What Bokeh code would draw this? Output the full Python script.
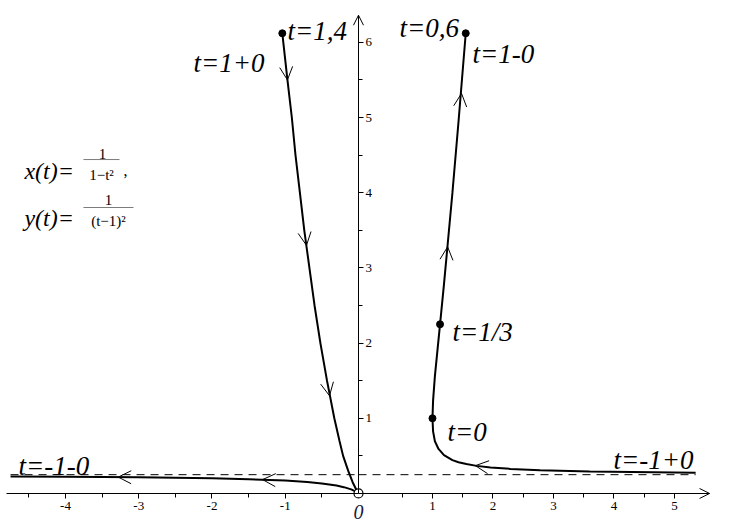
from bokeh.plotting import figure
from bokeh.models import (Range1d, LinearScale, LinearAxis, FixedTicker, Label,
                          Arrow, OpenHead, ColumnDataSource, BoxAnnotation)
from bokeh.embed import file_html
from bokeh.resources import INLINE

# ---------------- values ----------------
# branch t > 1 : from the point t=1,4 down to the origin
upper_left_x = [-1.04, -0.97, -0.91, -0.86, -0.80, -0.74, -0.67, -0.60, -0.52,
                -0.43, -0.33, -0.26, -0.21, -0.14, -0.08, -0.03, 0.0]
upper_left_y = [6.12, 5.5, 5.0, 4.5, 4.0, 3.5, 3.0, 2.5, 2.0,
                1.5, 1.0, 0.7, 0.5, 0.3, 0.15, 0.05, 0.0]

# branch t < -1 : from t=-1-0 (far left) to the origin
lower_left_x = [-4.75, -4.0, -3.0, -2.0, -1.5, -1.0, -0.7, -0.5, -0.3, -0.2, -0.1, -0.05, 0.0]
lower_left_y = [0.227, 0.223, 0.215, 0.202, 0.190, 0.172, 0.153, 0.134, 0.105, 0.084, 0.054, 0.032, 0.0]

# branch -1 < t < 1 : from t=-1+0 (far right) up to t=0,6  (right-hand x scale)
right_x = [5.35, 3.60, 2.78, 2.29, 1.96, 1.73, 1.56, 1.43, 1.33, 1.19, 1.10, 1.04,
           1.01, 1.00, 1.01, 1.04, 1.125, 1.19, 1.33, 1.43, 1.55]
right_y = [0.277, 0.292, 0.309, 0.327, 0.346, 0.367, 0.391, 0.416, 0.444, 0.510, 0.592, 0.694,
           0.826, 1.0, 1.235, 1.56, 2.25, 2.78, 4.0, 4.94, 6.12]

asymptote_y = 0.25

# marked points
left_dot_x, left_dot_y = [-1.04], [6.12]                       # t = 1,4
right_dot_x, right_dot_y = [1.55, 1.125, 1.0], [6.12, 2.25, 1.0]  # t = 0,6 ; 1/3 ; 0
origin_x, origin_y = [0.0], [0.0]

# direction marks along the curves (tail -> tip)
left_arrow_x0 = [-0.99, -0.74, -0.435, -1.00, -3.00]
left_arrow_y0 = [5.70, 3.50, 1.50, 0.172, 0.215]
left_arrow_x1 = [-0.97, -0.71, -0.396, -1.31, -3.28]
left_arrow_y1 = [5.50, 3.30, 1.30, 0.185, 0.218]
right_arrow_x0 = [1.44, 1.22, 1.96]
right_arrow_y0 = [5.00, 3.00, 0.346]
right_arrow_x1 = [1.48, 1.25, 1.71]
right_arrow_y1 = [5.32, 3.28, 0.370]

# axes
x_left_ticks = [-4, -3, -2, -1]
x_left_minor = [-4.5, -3.5, -2.5, -1.5, -0.5]
x_right_ticks = [1, 2, 3, 4, 5]
x_right_minor = [0.5, 1.5, 2.5, 3.5, 4.5]
y_ticks = [1, 2, 3, 4, 5, 6]
y_minor = [0.5, 1.5, 2.5, 3.5, 4.5, 5.5]
x_axis_end = 5.58
y_axis_end = 6.36

# point labels
point_labels = ["t=1,4", "t=1+0", "t=0,6", "t=1-0", "t=1/3", "t=0", "t=-1+0", "t=-1-0"]

# ---------------- figure ----------------
p = figure(width=728, height=522, x_range=Range1d(-4.887, 5.051), y_range=Range1d(-0.386, 6.556),
           output_backend="svg", toolbar_location=None, y_axis_location="right",
           min_border=0, title=None)
p.extra_x_ranges = {"right": Range1d(-6.140, 5.893)}
p.extra_x_scales = {"right": LinearScale()}
p.grid.visible = False
p.outline_line_color = None
p.background_fill_color = "white"
p.border_fill_color = "white"

FONT = "Liberation Serif"


def style_axis(ax, ticks, minor, bounds):
    ax.ticker = FixedTicker(ticks=ticks, minor_ticks=minor)
    ax.bounds = bounds
    ax.fixed_location = 0
    ax.axis_line_color = "black"
    ax.axis_line_width = 1
    ax.major_tick_in = 0
    ax.major_tick_out = 5
    ax.minor_tick_in = 0
    ax.minor_tick_out = 4
    ax.major_tick_line_color = "black"
    ax.minor_tick_line_color = "black"
    ax.major_label_text_font = FONT
    ax.major_label_text_font_size = "13px"
    ax.major_label_text_color = "black"
    ax.major_label_overrides = {t: str(t) for t in ticks}


xl = p.xaxis[0]
style_axis(xl, x_left_ticks, x_left_minor, (-4.80, 0))
xl.major_label_standoff = 4

xr = LinearAxis(x_range_name="right")
style_axis(xr, x_right_ticks, x_right_minor, (-0.223, x_axis_end))
xr.major_label_standoff = 4
p.add_layout(xr, "below")

ya = p.yaxis[0]
style_axis(ya, y_ticks, y_minor, (0, y_axis_end))
ya.major_label_standoff = 2

# axis arrow heads
p.add_layout(Arrow(end=OpenHead(size=10, line_width=1, line_color="black"),
                   x_start=x_axis_end - 0.3, y_start=0, x_end=x_axis_end, y_end=0,
                   line_alpha=0, x_range_name="right"))
p.add_layout(Arrow(end=OpenHead(size=10, line_width=1, line_color="black"),
                   x_start=0, y_start=y_axis_end - 0.3, x_end=0, y_end=y_axis_end,
                   line_alpha=0))

# asymptote y = 1/4
p.line([-4.75, 0], [asymptote_y, asymptote_y], line_color="black", line_width=1, line_dash="8 6")
p.line([-0.223, 5.35], [asymptote_y, asymptote_y], line_color="black", line_width=1,
       line_dash="8 6", x_range_name="right")

# curves
p.line(upper_left_x, upper_left_y, line_color="black", line_width=2)
p.line(lower_left_x, lower_left_y, line_color="black", line_width=2)
p.line(right_x, right_y, line_color="black", line_width=2, x_range_name="right")

# direction marks
src_l = ColumnDataSource(dict(x0=left_arrow_x0, y0=left_arrow_y0, x1=left_arrow_x1, y1=left_arrow_y1))
src_r = ColumnDataSource(dict(x0=right_arrow_x0, y0=right_arrow_y0, x1=right_arrow_x1, y1=right_arrow_y1))
p.add_layout(Arrow(end=OpenHead(size=13, line_width=1, line_color="black"), source=src_l,
                   x_start="x0", y_start="y0", x_end="x1", y_end="y1", line_alpha=0))
p.add_layout(Arrow(end=OpenHead(size=13, line_width=1, line_color="black"), source=src_r,
                   x_start="x0", y_start="y0", x_end="x1", y_end="y1", line_alpha=0,
                   x_range_name="right"))

# points
p.scatter(left_dot_x, left_dot_y, size=7, color="black")
p.scatter(right_dot_x, right_dot_y, size=7, color="black", x_range_name="right")
p.scatter(origin_x, origin_y, size=9, fill_color="white", line_color="black", line_width=1.2)

# point labels
label_pos = [(-0.969, 6.157), (-2.253, 5.731), (0.560, 6.184), (1.556, 5.851),
             (1.283, 2.141), (1.215, 0.811), (3.481, 0.439), (-4.642, 0.372)]
for txt, (lx, ly) in zip(point_labels, label_pos):
    p.add_layout(Label(x=lx, y=ly, text=txt, text_font=FONT, text_font_style="italic",
                       text_font_size="27px", text_color="black", text_baseline="alphabetic"))

p.add_layout(Label(x=0, y=-0.253, text="0", text_font=FONT, text_font_style="italic",
                   text_font_size="20px", text_color="#1a1a40", text_align="center",
                   text_baseline="alphabetic"))

# formula
def fl(x, y, text, size, style="normal", align="left"):
    p.add_layout(Label(x=x, y=y, text=text, text_font=FONT, text_font_style=style,
                       text_font_size=size, text_color="black", text_align=align,
                       text_baseline="alphabetic"))


fl(-4.560, 4.295, "x(t)=", "24px", "italic")
fl(-3.495, 4.508, "1", "15px", align="center")
fl(-3.508, 4.242, "1\u2212t\u00b2", "15px", align="center")
fl(-3.208, 4.295, ",", "16px")
p.add_layout(BoxAnnotation(left=-3.754, right=-3.263, bottom=4.441, top=4.441,
                           fill_alpha=0, line_color="black", line_width=1))

fl(-4.560, 3.670, "y(t)=", "24px", "italic")
fl(-3.413, 3.897, "1", "15px", align="center")
fl(-3.413, 3.617, "(t\u22121)\u00b2", "15px", align="center")
p.add_layout(BoxAnnotation(left=-3.754, right=-3.072, bottom=3.803, top=3.803,
                           fill_alpha=0, line_color="black", line_width=1))

open("out.html", "w").write(file_html(p, INLINE))
